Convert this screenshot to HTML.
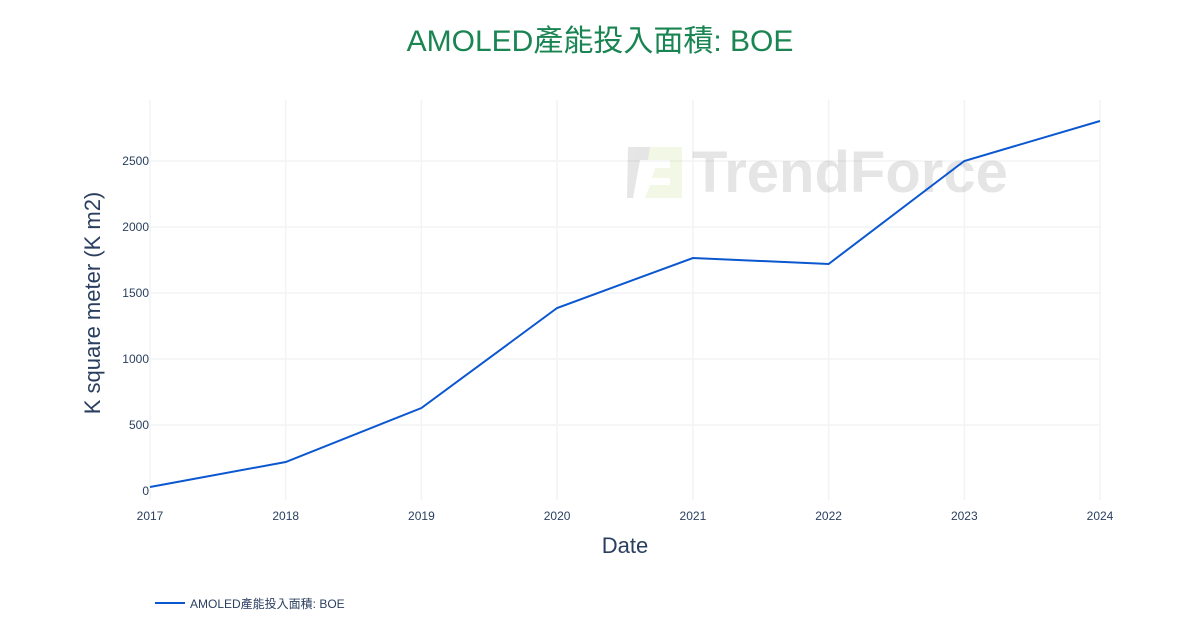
<!DOCTYPE html>
<html><head><meta charset="utf-8"><style>
body{margin:0;background:#fff;}
svg text{font-family:"Liberation Sans","Noto Sans CJK TC",sans-serif;}
</style></head><body>
<svg width="1200" height="630" xmlns="http://www.w3.org/2000/svg">
<rect width="1200" height="630" fill="#fff"/>
<text x="600" y="51" text-anchor="middle" font-size="30" fill="#1a8552">AMOLED產能投入面積: BOE</text>
<g stroke="#f2f3f5" stroke-width="1.5">
<line x1="150" y1="100" x2="150" y2="500"/><line x1="285.7" y1="100" x2="285.7" y2="500"/>
<line x1="421.4" y1="100" x2="421.4" y2="500"/><line x1="557.1" y1="100" x2="557.1" y2="500"/>
<line x1="692.9" y1="100" x2="692.9" y2="500"/><line x1="828.6" y1="100" x2="828.6" y2="500"/>
<line x1="964.3" y1="100" x2="964.3" y2="500"/><line x1="1100" y1="100" x2="1100" y2="500"/>
<line x1="150" y1="161" x2="1100" y2="161"/><line x1="150" y1="227" x2="1100" y2="227"/>
<line x1="150" y1="293" x2="1100" y2="293"/><line x1="150" y1="359" x2="1100" y2="359"/>
<line x1="150" y1="425" x2="1100" y2="425"/>
</g>
<g opacity="0.12">
<path d="M628 147 H660 L655 160 H640 L633 198 H627 Z" fill="#333"/>
<path d="M650 147 H682 V198 H645 L650 185 H670 V178 H652 L655 168 H670 V160 H648 Z" fill="#9c3"/>
<text x="692" y="192" font-size="58" font-weight="bold" fill="#333">TrendForce</text>
</g>
<g font-size="12" fill="#2a3f5f" text-anchor="end">
<text x="149" y="165">2500</text><text x="149" y="231">2000</text><text x="149" y="297">1500</text>
<text x="149" y="363">1000</text><text x="149" y="429">500</text><text x="149" y="495">0</text>
</g>
<g font-size="12" fill="#2a3f5f" text-anchor="middle">
<text x="150" y="520">2017</text><text x="285.7" y="520">2018</text><text x="421.4" y="520">2019</text>
<text x="557.1" y="520">2020</text><text x="692.9" y="520">2021</text><text x="828.6" y="520">2022</text>
<text x="964.3" y="520">2023</text><text x="1100" y="520">2024</text>
</g>
<text x="625" y="553" text-anchor="middle" font-size="22" fill="#2a3f5f">Date</text>
<text transform="translate(100,303) rotate(-90)" text-anchor="middle" font-size="22" fill="#2a3f5f">K square meter (K m2)</text>
<polyline fill="none" stroke="#0b57d0" stroke-width="2" points="150,487 285.7,462 421.4,408 557.1,308 692.9,258 828.6,264 964.3,161 1100,121"/>
<line x1="155" y1="603" x2="185" y2="603" stroke="#0b57d0" stroke-width="2"/>
<text x="190" y="608" font-size="12" fill="#2a3f5f">AMOLED產能投入面積: BOE</text>
</svg>
</body></html>
